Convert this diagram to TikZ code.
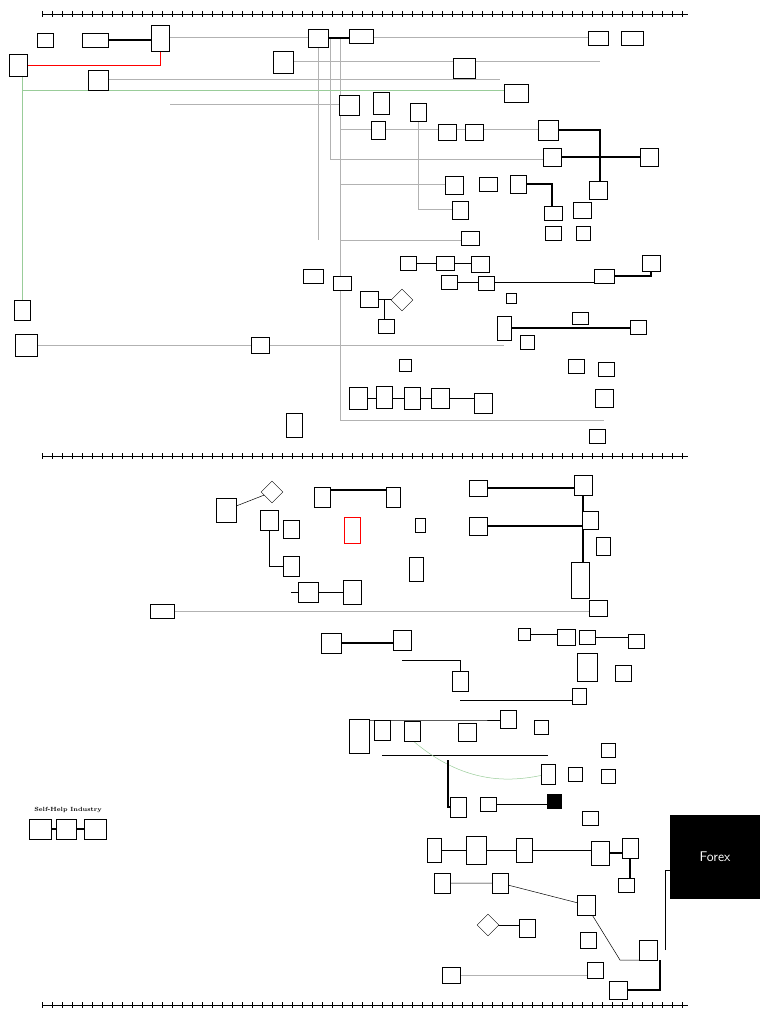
\documentclass[tikz,border=0pt]{standalone}
\usetikzlibrary{shapes.geometric}
\begin{document}
\begin{tikzpicture}[x=1pt,y=-1pt,
 bx/.style={draw,line width=0.8pt,fill=white,inner sep=0pt},
 gl/.style={draw=gray!60,line width=1pt},
 tl/.style={line width=1.3pt},
 tn/.style={line width=0.5pt}]
\useasboundingbox (0,0) rectangle (768,1024);
\foreach \y in {14,456,1005}{
 \draw[line width=0.7pt] (42,\y) -- (688,\y);
 \foreach \i in {0,...,64}{\draw[line width=0.4pt] (42+\i*10,\y-3) -- (42+\i*10,\y+3);}
}
% gray long lines (top)
\draw[gl] (160,38) -- (598,38);
\draw[gl] (318,38) -- (318,240);
\draw[gl] (330,38) -- (330,160) -- (548,160);
\draw[gl] (340,38) -- (340,420) -- (604,420);
\draw[gl] (98,80) -- (500,80);
\draw[gl] (283,62) -- (600,62);
\draw[gl] (170,105) -- (340,105);
\draw[draw=green!50!black!40,line width=0.5pt] (22,65) -- (22,300);
\draw[draw=green!50!black!40,line width=0.5pt] (22,90) -- (516,90);
\draw[draw=red,line width=0.6pt] (18,65) -- (160,65) -- (160,38);
\draw[gl] (26,345) -- (504,345);
\draw[gl] (340,240) -- (470,240);
\draw[gl] (418,112) -- (418,210) -- (454,210);
\draw[gl] (340,185) -- (454,185);
\draw[gl] (340,130) -- (548,130);
% thick connectors top
\draw[tl] (95,40) -- (160,40);
\draw[tl] (318,38) -- (361,38);
\draw[tl] (548,130) -- (600,130) -- (600,190);
\draw[tl] (552,157) -- (649,157);
\draw[tl] (518,184) -- (552,184) -- (552,213);
\draw[tl] (604,276) -- (651,276) -- (651,263);
\draw[tl] (504,328) -- (638,328);
\draw[tn] (358,398) -- (483,398);
\draw[tn] (369,299) -- (402,299);
\draw[tn] (408,263) -- (480,263);
\draw[tn] (449,282) -- (604,282);
\draw[tn] (384,300) -- (384,326);
% lower connectors
\draw[tn] (272,492) -- (226,510);
\draw[tn] (269,520) -- (269,566) -- (291,566);
\draw[tn] (291,592) -- (352,592);
\draw[tl] (322,490) -- (393,490);
\draw[tl] (478,526) -- (583,526) -- (583,485);
\draw[tl] (478,488) -- (583,488);
\draw[tl] (583,500) -- (583,580);
\draw[gl] (162,611) -- (598,611);
\draw[tl] (331,643) -- (402,643);
\draw[tn] (402,660) -- (460,660) -- (460,681);
\draw[tn] (460,700) -- (587,700);
\draw[tn] (524,634) -- (566,634);
\draw[tn] (587,637) -- (636,637);
\draw[tn] (359,720) -- (467,720) -- (508,720);
\draw[tn] (382,755) -- (548,755);
\draw[draw=green!50!black!40,line width=0.5pt] (412,740) .. controls (470,790) and (520,780) .. (548,774);
\draw[tl] (448,760) -- (448,807) -- (458,807);
\draw[tn] (488,804) -- (554,804);
\draw[tl] (40,829) -- (95,829);
\draw[tn] (434,850) -- (600,850);
\draw[tl] (600,853) -- (630,853) -- (630,885);
\draw[tn] (442,883) -- (500,883) -- (586,905);
\draw[tn] (488,925) -- (527,925);
\draw[tn] (586,905) -- (620,960) -- (648,960);
\draw[tn] (665,950) -- (665,870) -- (670,870);
\draw[tl] (618,990) -- (660,990) -- (660,960);
\draw[gl] (451,975) -- (595,975);
% boxes
\foreach \x/\y/\w/\h in {45/40/16/14,18/65/18/22,95/40/26/14,160/38/18/26,318/38/20/18,361/36/24/14,598/38/20/14,632/38/22/14,283/62/20/22,98/80/20/20,464/68/22/20,516/93/24/18,349/105/20/20,381/103/16/22,418/112/16/18,378/130/14/18,447/132/18/16,474/132/18/16,548/130/20/20,649/157/18/18,552/157/18/18,454/185/18/18,488/184/18/14,518/184/16/18,598/190/18/18,460/210/16/18,553/213/18/14,582/210/18/16,553/233/16/14,583/233/14/14,470/238/18/14,408/263/16/14,445/263/18/14,480/264/18/16,313/276/20/14,342/283/18/14,449/282/16/14,486/283/16/14,511/298/10/10,604/276/20/14,651/263/18/16,369/299/18/16,386/326/16/14,580/318/16/12,638/327/16/14,22/310/16/20,26/345/22/22,260/345/18/16,504/328/14/24,527/342/14/14,576/366/16/14,606/369/16/14,405/365/12/12,358/398/18/22,384/397/16/22,412/398/16/22,440/398/18/20,483/403/18/20,604/398/18/18,294/425/16/24,597/436/16/14,
226/510/20/24,269/520/18/20,291/529/16/18,322/497/16/20,393/497/14/20,420/525/10/14,478/488/18/16,478/526/18/18,583/485/18/20,590/520/16/18,603/546/14/18,416/569/14/24,580/580/18/36,291/566/16/20,308/592/20/20,352/592/18/24,162/611/24/14,598/608/18/16,331/643/20/20,402/640/18/20,524/634/12/12,566/637/18/16,587/637/16/14,636/641/16/14,460/681/16/20,587/667/20/28,623/673/16/16,579/696/14/16,359/736/20/34,382/730/16/20,412/731/16/20,467/732/18/18,508/719/16/18,541/727/14/14,608/750/14/14,548/774/14/20,575/774/14/14,608/776/14/14,458/807/16/20,488/804/16/14,590/818/16/14,40/829/22/20,66/829/20/20,95/829/22/20,434/850/14/24,476/850/20/28,524/850/16/24,600/853/18/24,630/848/16/20,626/885/16/14,442/883/16/20,500/883/16/20,586/905/18/20,527/928/16/18,588/940/16/16,648/950/18/20,618/990/18/18,451/975/18/16,595/970/16/16}
 {\node[bx,minimum width=\w pt,minimum height=\h pt] at (\x,\y) {};}
\node[bx,draw=red,minimum width=16pt,minimum height=26pt] (red) at (352,530) {};
\node[bx,fill=black,minimum width=14pt,minimum height=14pt] (blk) at (554,801) {};
\foreach \x/\y in {402/300,272/492,488/925}{\node[draw,diamond,shape aspect=1,minimum size=22pt,inner sep=0pt,fill=white] at (\x,\y) {};}
\node[font=\bfseries\fontsize{6}{7}\selectfont] (sh) at (68,810) {Self-Help Industry};
\node[fill=black,minimum width=90pt,minimum height=84pt,inner sep=0pt] (fx) at (715,857) {};
\node[text=white,font=\sffamily\fontsize{14}{16}\selectfont] at (715,857) {Forex};
\end{tikzpicture}
\end{document}
